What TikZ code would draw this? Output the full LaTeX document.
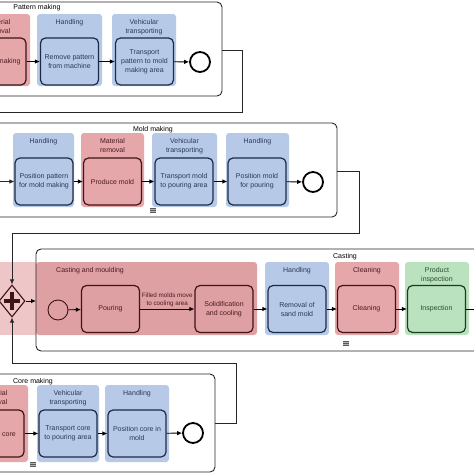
\documentclass[tikz,border=0pt]{standalone}
\usepackage{fontspec}
\setmainfont{Liberation Sans}
\usetikzlibrary{arrows.meta,shapes.geometric}
\definecolor{laneBlue}{HTML}{B6C9E6}
\definecolor{laneRed}{HTML}{E6A7AB}
\definecolor{bandRed}{HTML}{DFA0A4}
\definecolor{bandLight}{HTML}{EEC6C8}
\definecolor{laneGreen}{HTML}{BAE2BE}
\definecolor{bBorder}{HTML}{1C2A48}
\definecolor{rBorder}{HTML}{3E1417}
\definecolor{gBorder}{HTML}{1D3A22}
\definecolor{bText}{HTML}{2A3A58}
\definecolor{rText}{HTML}{4A1B1F}
\definecolor{gText}{HTML}{2C4A31}
\tikzset{
  txt/.style={font=\fontsize{7}{9}\selectfont},
  poolfill/.style={fill=white, rounded corners=5pt},
  poolline/.style={draw=black!85, line width=0.9pt, rounded corners=5pt},
  bluelane/.style={fill=laneBlue, rounded corners=3pt},
  redlane/.style={fill=laneRed, rounded corners=3pt},
  greenlane/.style={fill=laneGreen, rounded corners=3pt},
  task/.style={rectangle, rounded corners=5pt, line width=1.2pt, minimum width=58pt,
    minimum height=47pt, align=center, txt, inner sep=1pt},
  btask/.style={task, draw=bBorder, fill=laneBlue, text=bText},
  rtask/.style={task, draw=rBorder, fill=laneRed, text=rText},
  gtask/.style={task, draw=gBorder, fill=laneGreen, text=gText},
  bhead/.style={anchor=north, align=center, txt, inner sep=0pt, text=bText},
  rhead/.style={anchor=north, align=center, txt, inner sep=0pt, text=rText},
  ghead/.style={anchor=north, align=center, txt, inner sep=0pt, text=gText},
  pooltitle/.style={txt, inner sep=0pt, text=black},
  flow/.style={draw=black, line width=0.9pt, -{Latex[length=5pt,width=4.5pt]}},
  conn/.style={draw=black!85, line width=0.8pt},
  endevt/.style={circle, draw=black, line width=1.8pt, minimum size=20pt, inner sep=0pt, fill=white},
  startevt/.style={circle, draw=rBorder, line width=0.9pt, minimum size=20pt, inner sep=0pt, fill=bandRed},
  marker/.style={rectangle, fill=black!65, minimum width=6pt, minimum height=5pt, inner sep=0pt,
    path picture={\draw[white!70!black, line width=0.3pt]
      ([yshift=-1.7pt]path picture bounding box.north west) -- ([yshift=-1.7pt]path picture bounding box.north east)
      ([yshift=1.7pt]path picture bounding box.south west) -- ([yshift=1.7pt]path picture bounding box.south east);}}
}
\begin{document}
\begin{tikzpicture}[x=1pt,y=-1pt]
\useasboundingbox (0,0) rectangle (474,474);
\clip (0,0) rectangle (474,474);
\fill[white] (0,0) rectangle (474,474);

% ---------------- Pattern making ----------------
\path[poolfill] (-10,2) rectangle (222,96);
\path[redlane] (-34,14) rectangle (30,86);
\path[bluelane] (37,14) rectangle (102,86);
\path[bluelane] (112,14) rectangle (176,86);
\draw[poolline] (-10,2) rectangle (222,96);
\node[pooltitle] (tp) at (37,8) {Pattern making};
\node[rhead] (hp0) at (-2,19.5) {Material\\removal};
\node[bhead] (hp1) at (69.5,19.5) {Handling};
\node[bhead] (hp2) at (144,19.5) {Vehicular\\transporting};
\node[rtask] (p0) at (-3,61.5) {Pattern making};
\node[btask] (p1) at (69.5,61.5) {Remove pattern\\from machine};
\node[btask] (p2) at (144.5,61.5) {Transport\\pattern to mold\\making area};
\node[endevt] (pe) at (200,62) {};
\draw[flow] (p0) -- (p1);
\draw[flow] (p1) -- (p2);
\draw[flow] (p2) -- (pe);

% ---------------- Mold making ----------------
\path[poolfill] (-10,123) rectangle (337,217);
\path[bluelane] (13,133) rectangle (74,207);
\path[redlane] (81,133) rectangle (144,207);
\path[bluelane] (152,133) rectangle (217,207);
\path[bluelane] (226,133) rectangle (289,207);
\draw[poolline] (-10,123) rectangle (337,217);
\node[pooltitle] (tm) at (153,130) {Mold making};
\node[bhead] (hm1) at (43.5,138.5) {Handling};
\node[rhead] (hm2) at (112.5,138.5) {Material\\removal};
\node[bhead] (hm3) at (184.5,138.5) {Vehicular\\transporting};
\node[bhead] (hm4) at (257.5,138.5) {Handling};
\node[btask] (m1) at (44,181.5) {Position pattern\\for mold making};
\node[rtask] (m2) at (112.5,181.5) {Produce mold};
\node[btask] (m3) at (184,181.5) {Transport mold\\to pouring area};
\node[btask] (m4) at (257,181.5) {Position mold\\for pouring};
\node[endevt] (me) at (313,182) {};
\node[marker] (mk1) at (153,210) {};
\draw[flow] (m1) -- (m2);
\draw[flow] (m2) -- (m3);
\draw[flow] (m3) -- (m4);
\draw[flow] (m4) -- (me);

% ---------------- Casting ----------------
\path[poolfill] (36,249) rectangle (490,351);
\fill[bandLight] (-5,262) rectangle (36,335);
\path[fill=bandRed, rounded corners=3pt] (36,262) -- (257,262) -- (257,335) -- (36,335) -- cycle;
\path[bluelane] (265,262) rectangle (329,335);
\path[redlane] (335,262) rectangle (399,335);
\path[greenlane] (405,262) rectangle (469,335);
\draw[poolline] (36,249) rectangle (490,351);
\node[pooltitle] (tc) at (345,257) {Casting};
\node[anchor=west, txt, inner sep=0pt, text=rText] (hc0) at (56,271) {Casting and moulding};
\node[bhead] (hc1) at (297,267.5) {Handling};
\node[rhead] (hc2) at (367,267.5) {Cleaning};
\node[ghead] (hc3) at (437,267.5) {Product\\inspection};
\node[startevt] (cs) at (58,310) {};
\node[rtask, fill=bandRed] (c1) at (110.5,309) {Pouring};
\node[rtask, fill=bandRed] (c2) at (224,309) {Solidification\\and cooling};
\node[btask] (c3) at (297,309) {Removal of\\sand mold};
\node[rtask] (c4) at (366.5,309) {Cleaning};
\node[gtask] (c5) at (436.5,309) {Inspection};
\coordinate (cout) at (482,309);
\node[marker] (mk2) at (346,343) {};
\draw[flow] (cs) -- (c1);
\draw[flow] (c1) -- node[above, align=center, font=\fontsize{6.3}{8}\selectfont, text=rText, inner sep=1.5pt] (fl) {Filled molds move\\to cooling area} (c2);
\draw[flow] (c2) -- (c3);
\draw[flow] (c3) -- (c4);
\draw[flow] (c4) -- (c5);
\draw[flow] (c5) -- (cout);

% ---------------- Core making ----------------
\path[poolfill] (-10,374) rectangle (215,472);
\path[redlane] (-34,385) rectangle (28,462);
\path[bluelane] (37,385) rectangle (99,462);
\path[bluelane] (105,385) rectangle (169,462);
\draw[poolline] (-10,374) rectangle (215,472);
\node[pooltitle] (tk) at (33,382) {Core making};
\node[rhead] (hk0) at (-5,390.5) {Material\\removal};
\node[bhead] (hk1) at (68,390.5) {Vehicular\\transporting};
\node[bhead] (hk2) at (137,390.5) {Handling};
\node[rtask] (k0) at (-5,433.5) {Produce core};
\node[btask] (k1) at (68,433.5) {Transport core\\to pouring area};
\node[btask] (k2) at (137,433.5) {Position core in\\mold};
\node[endevt] (ke) at (193,433) {};
\node[marker] (mk3) at (33,464) {};
\draw[flow] (k0) -- (k1);
\draw[flow] (k1) -- (k2);
\draw[flow] (k2) -- (ke);

% ---------------- Gateway ----------------
\node[diamond, draw=rBorder, fill=bandLight, line width=1.1pt, minimum width=26pt, minimum height=32pt, inner sep=0pt] (gw) at (12,301) {};
\draw[rBorder, line width=3.5pt] ([xshift=-8pt]gw.center) -- ([xshift=8pt]gw.center)
  ([yshift=-9pt]gw.center) -- ([yshift=9pt]gw.center);
\coordinate (cbox) at (36,301);
\draw[flow] (gw.east) -- (cbox);

% ---------------- Connectors between pools ----------------
\coordinate (pa0) at (222,50);
\coordinate (pa1) at (242,112);
\coordinate (pa2) at (-5,112);
\draw[conn, -{Latex[length=5pt,width=4.5pt]}] (pa0) -| (pa1) -- (pa2) |- (m1.west);
\coordinate (mo0) at (337,171);
\coordinate (mo1) at (359,233);
\draw[conn, -{Latex[length=5pt,width=4.5pt]}] (mo0) -| (mo1) -| (gw.north);
\coordinate (ko0) at (215,423);
\coordinate (ko1) at (236,363);
\draw[conn, -{Latex[length=5pt,width=4.5pt]}] (ko0) -| (ko1) -| (gw.south);
\end{tikzpicture}
\end{document}
